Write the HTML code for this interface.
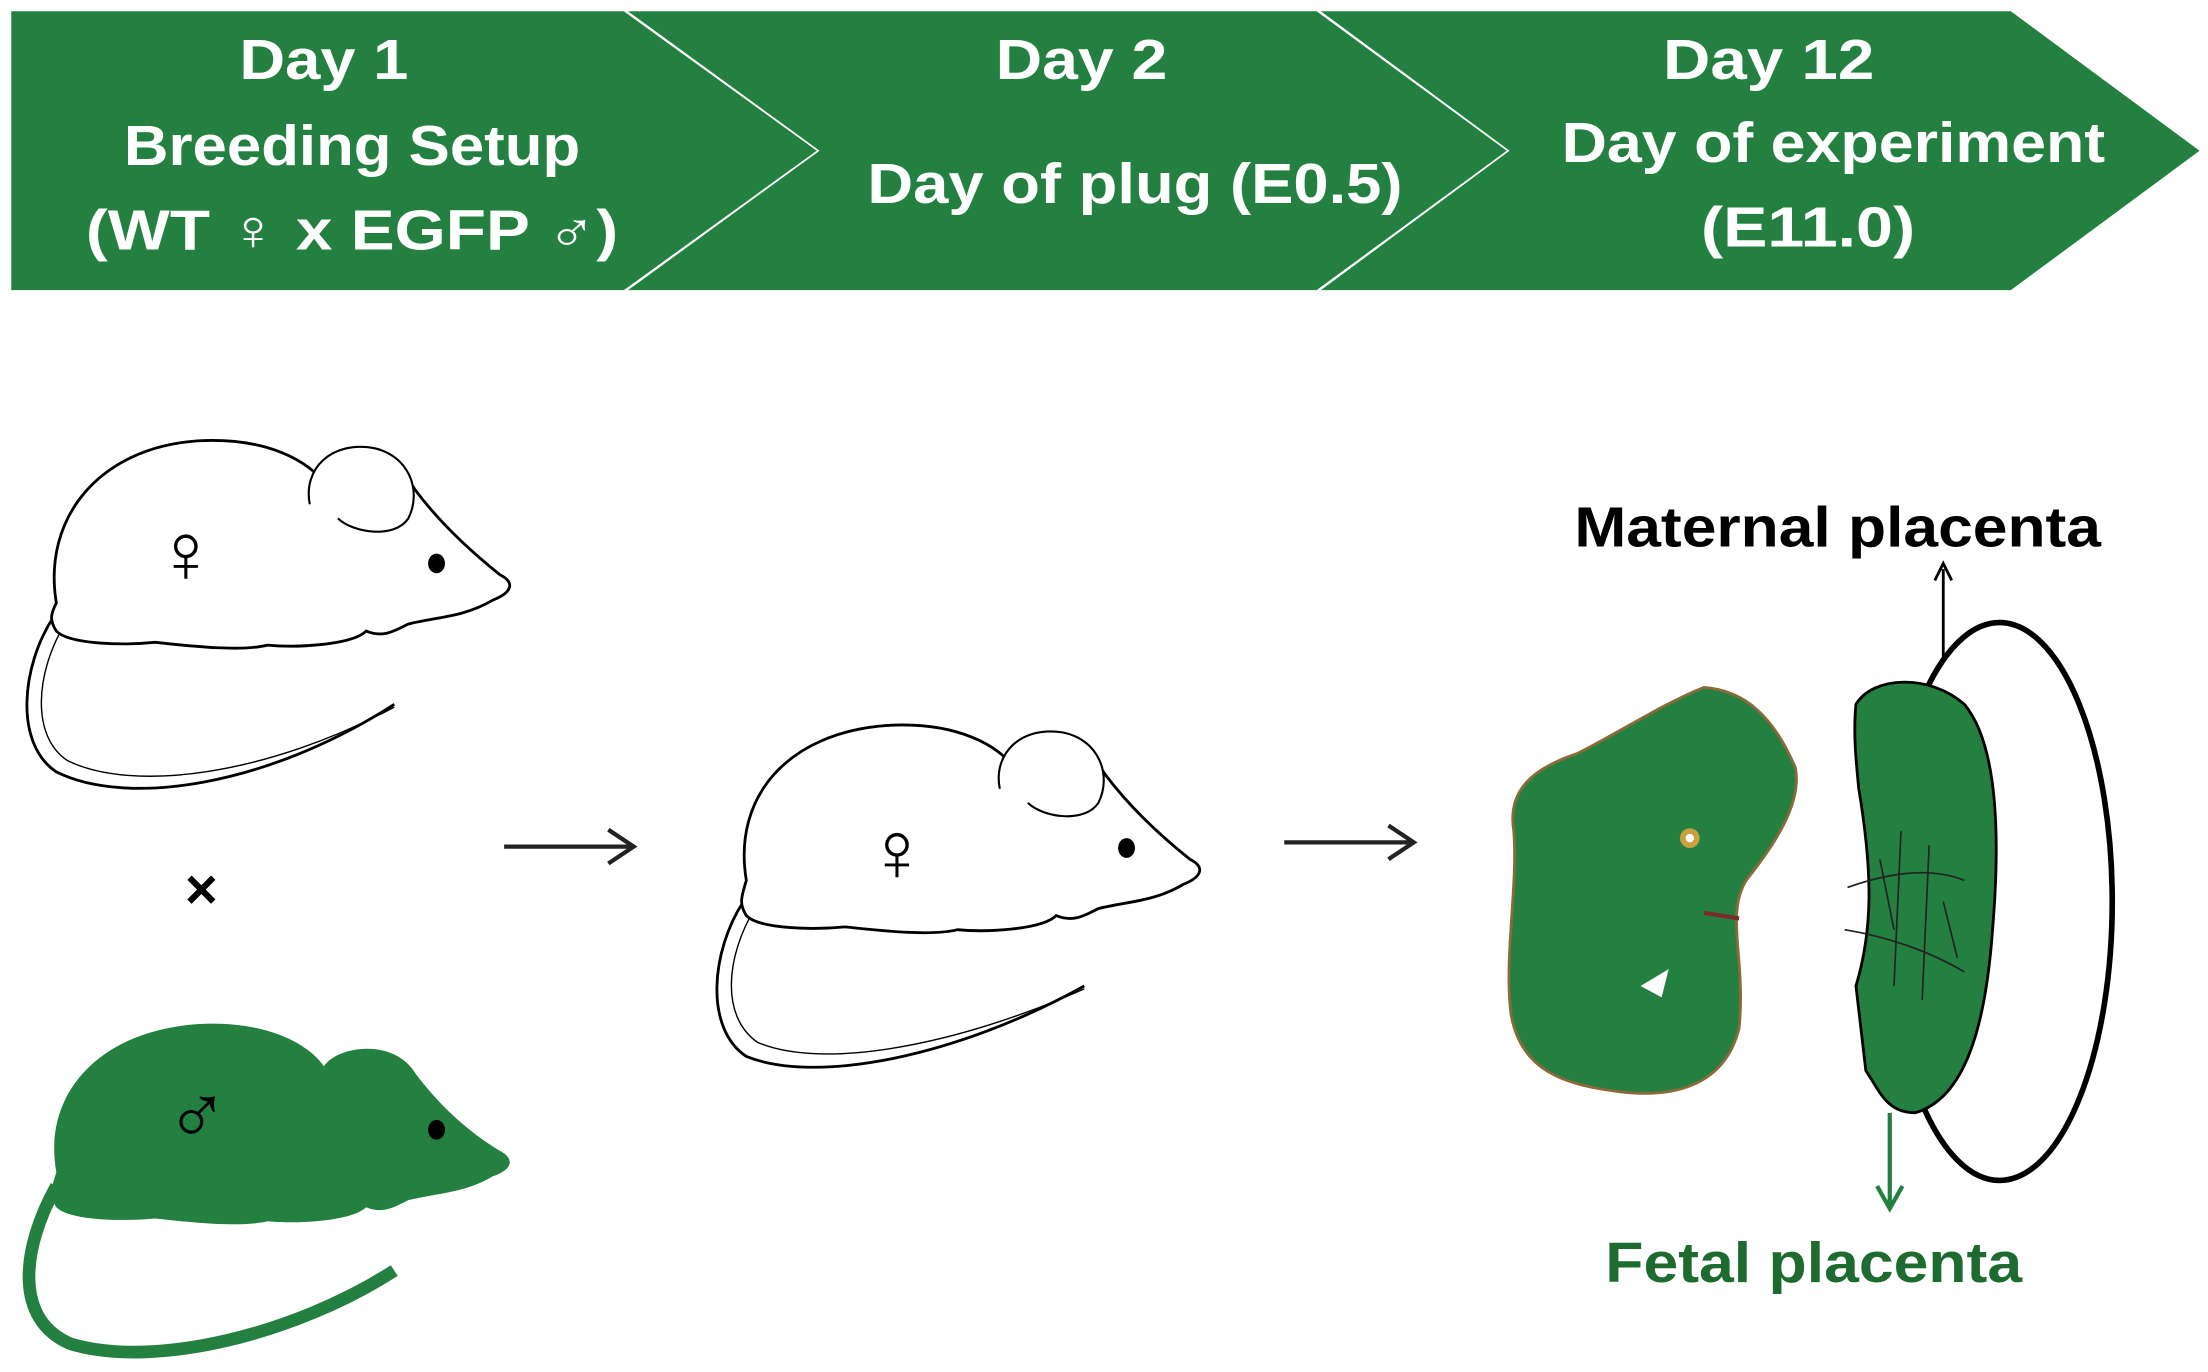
<!DOCTYPE html>
<html><head><style>
html,body{margin:0;padding:0;background:#fff;}
svg{display:block;}
text{font-family:"Liberation Sans","DejaVu Sans",sans-serif;}
</style></head><body>
<svg width="2208" height="1372" viewBox="0 0 1568 974" preserveAspectRatio="none" xmlns="http://www.w3.org/2000/svg">
<!-- banner -->
<path d="M8,8 L443,8 L580,107 L443,206 L8,206 Z" fill="#238040"/>
<path d="M446,8 L935,8 L1070,107 L935,206 L446,206 L582,107 Z" fill="#238040"/>
<path d="M938,8 L1428,8 L1562,107 L1428,206 L938,206 L1072,107 Z" fill="#238040"/>
<g fill="#fff" font-size="40" font-weight="bold" text-anchor="middle">
<text x="230" y="56" textLength="120" lengthAdjust="spacingAndGlyphs">Day 1</text>
<text x="250" y="117" textLength="324" lengthAdjust="spacingAndGlyphs">Breeding Setup</text>
<text x="250" y="177" textLength="378" lengthAdjust="spacingAndGlyphs">(WT ♀ x EGFP ♂)</text>
<text x="768" y="56" textLength="122" lengthAdjust="spacingAndGlyphs">Day 2</text>
<text x="806" y="144" textLength="380" lengthAdjust="spacingAndGlyphs">Day of plug (E0.5)</text>
<text x="1256" y="56" textLength="150" lengthAdjust="spacingAndGlyphs">Day 12</text>
<text x="1302" y="115" textLength="386" lengthAdjust="spacingAndGlyphs">Day of experiment</text>
<text x="1284" y="175" textLength="152" lengthAdjust="spacingAndGlyphs">(E11.0)</text>
</g>
<!-- mouse 1 -->
<g transform="translate(10,308)">
 <path d="M28,130 C5,165 0,220 30,240 C80,265 180,250 270,192" fill="none" stroke="#000" stroke-width="2"/>
 <path d="M36,135 C15,170 12,215 38,232 C85,255 180,242 270,194" fill="none" stroke="#000" stroke-width="1"/>
 <path d="M30,120 C20,60 60,10 130,5 C180,2 210,20 220,35 C230,20 270,15 285,40 C300,60 320,80 345,100 C355,105 355,112 340,118 C320,130 300,130 280,135 C270,140 262,145 250,140 C240,150 200,152 180,150 C160,155 120,150 100,148 C80,150 40,150 30,140 C25,132 26,128 30,120 Z" fill="#fff" stroke="#000" stroke-width="2"/>
 <path d="M210,50 C205,25 225,5 255,10 C280,15 290,40 280,60 C270,75 240,70 230,60" fill="#fff" stroke="#000" stroke-width="1.5"/>
 <ellipse cx="300" cy="92" rx="6" ry="7" fill="#000"/>
 <text x="122" y="105" font-size="60" text-anchor="middle">♀</text>
</g>
<text x="143" y="645" font-size="40" text-anchor="middle" font-weight="bold">×</text>
<!-- mouse 2 green -->
<g transform="translate(10,722)">
 <path d="M30,120 C5,165 0,215 40,232 C100,250 200,225 270,180" fill="none" stroke="#238040" stroke-width="9"/>
 <path d="M30,110 C20,55 60,10 130,5 C180,2 210,20 220,35 C230,20 270,15 285,40 C300,60 320,80 345,95 C355,100 355,108 340,113 C320,125 300,125 280,130 C270,135 262,140 250,135 C240,145 200,147 180,145 C160,150 120,145 100,143 C80,145 40,145 30,135 C25,127 26,123 30,110 Z" fill="#238040"/>
 <ellipse cx="300" cy="80" rx="6" ry="7" fill="#000"/>
 <text x="130" y="90" font-size="60" text-anchor="middle">♂</text>
</g>
<!-- mouse 3 -->
<g transform="translate(500,510)">
 <path d="M28,130 C5,165 0,220 30,240 C80,260 180,240 270,190" fill="none" stroke="#000" stroke-width="2"/>
 <path d="M36,135 C15,170 12,212 38,230 C85,250 180,232 270,192" fill="none" stroke="#000" stroke-width="1"/>
 <path d="M30,115 C20,55 60,10 130,5 C180,2 210,20 220,35 C230,20 270,15 285,40 C300,60 320,80 345,100 C355,105 355,112 340,118 C320,130 300,130 280,135 C270,140 262,145 250,140 C240,150 200,152 180,150 C160,155 120,150 100,148 C80,150 40,150 30,140 C25,132 26,128 30,115 Z" fill="#fff" stroke="#000" stroke-width="2"/>
 <path d="M210,50 C205,25 225,5 255,10 C280,15 290,40 280,60 C270,75 240,70 230,60" fill="#fff" stroke="#000" stroke-width="1.5"/>
 <ellipse cx="300" cy="92" rx="6" ry="7" fill="#000"/>
 <text x="137" y="115" font-size="60" text-anchor="middle">♀</text>
</g>
<!-- arrows -->
<g stroke="#222" stroke-width="3" fill="none">
<path d="M358,601 L448,601 M432,589 L450,601 L432,613"/>
<path d="M912,598 L1002,598 M986,586 L1004,598 L986,610"/>
</g>
<!-- embryo -->
<path d="M1075,590 C1070,560 1090,545 1120,535 C1150,520 1180,500 1210,488 C1240,490 1260,510 1275,545 C1280,570 1260,600 1240,625 C1225,650 1240,680 1235,730 C1225,770 1190,780 1150,775 C1110,770 1080,760 1073,720 C1068,680 1078,630 1075,590 Z" fill="#238040" stroke="#8a6a3a" stroke-width="2"/>
<circle cx="1200" cy="595" r="7" fill="#c8a040"/><circle cx="1200" cy="595" r="3" fill="#fff"/>
<path d="M1165,700 L1185,688 L1180,708 Z" fill="#fff"/>
<path d="M1210,648 L1235,652" stroke="#7a2a2a" stroke-width="3"/>
<!-- placenta -->
<ellipse cx="1420" cy="640" rx="80" ry="198" fill="none" stroke="#000" stroke-width="4"/>
<path d="M1318,500 C1330,480 1370,478 1395,500 C1420,530 1420,600 1415,660 C1410,730 1395,780 1360,790 C1340,790 1335,775 1325,760 L1318,700 C1330,660 1330,620 1320,560 C1318,540 1316,520 1318,500 Z" fill="#238040" stroke="#000" stroke-width="2"/>
<g stroke="#222" stroke-width="1.2" fill="none">
<path d="M1312,630 C1340,620 1370,615 1395,625"/>
<path d="M1310,660 C1340,665 1370,675 1395,690"/>
<path d="M1350,590 L1345,700 M1370,600 L1365,710 M1335,610 L1345,660 M1380,640 L1390,680"/>
</g>
<path d="M1380,470 L1380,404 M1374,412 L1380,400 L1386,412" stroke="#000" stroke-width="2" fill="none"/>
<path d="M1342,790 L1342,856 M1333,842 L1342,858 L1351,842" stroke="#238040" stroke-width="3" fill="none"/>
<text x="1305" y="388" font-size="40" text-anchor="middle" font-weight="bold" fill="#000" textLength="374" lengthAdjust="spacingAndGlyphs">Maternal placenta</text>
<text x="1288" y="910" font-size="40" text-anchor="middle" font-weight="bold" fill="#1e6b30" textLength="296" lengthAdjust="spacingAndGlyphs">Fetal placenta</text>
</svg>
</body></html>
